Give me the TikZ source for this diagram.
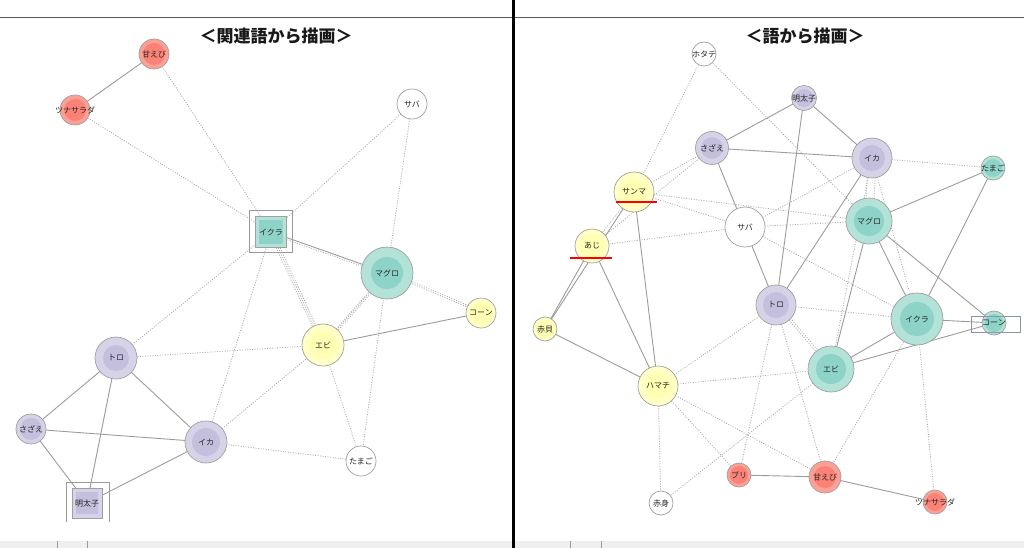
\documentclass[tikz,border=0pt]{standalone}
\usepackage{fontspec}
\newfontfamily\jp{Noto Sans CJK JP}
\usetikzlibrary{backgrounds}
\definecolor{tealI}{HTML}{8DD3C7}
\definecolor{tealO}{HTML}{B3E2D9}
\definecolor{purI}{HTML}{C3BFDD}
\definecolor{purO}{HTML}{D6D3E8}
\definecolor{yelI}{HTML}{FFFFB3}
\definecolor{yelO}{HTML}{FFFFC6}
\definecolor{redI}{HTML}{FB8276}
\definecolor{redO}{HTML}{FCA096}
\definecolor{whiI}{HTML}{FFFFFF}
\definecolor{whiO}{HTML}{FFFFFF}
\definecolor{ndline}{HTML}{A0A0A0}
\definecolor{solgray}{HTML}{9C9C9C}
\definecolor{dotgray}{HTML}{ABABAB}
\definecolor{framegray}{HTML}{9A9A9A}
\definecolor{frameblue}{HTML}{8A94AA}
\definecolor{bargray}{HTML}{EFEFEF}
\newcommand\lbl{\jp\fontsize{8}{9.5}\selectfont}
\newcommand\fl[1]{\makebox[0pt][c]{#1}}
\tikzset{
  fish/.style n args={3}{circle, inner sep=0pt, minimum size=#1, draw=ndline, line width=0.7pt,
     fill=#2O, font=\lbl, text=black!85,
     path picture={\fill[#2I] (path picture bounding box.center) circle (#3);}},
  sq/.style n args={3}{rectangle, inner sep=0pt, minimum size=#1, draw=ndline, line width=0.7pt,
     fill=#2O, font=\lbl, text=black!85,
     path picture={\fill[#2I] ([shift={(-#3,-#3)}]path picture bounding box.center) rectangle ([shift={(#3,#3)}]path picture bounding box.center);}},
  esol/.style={draw=solgray, line width=0.9pt},
  edot/.style={draw=dotgray, line width=0.8pt, dash pattern=on 1pt off 1.5pt},
  frm/.style={draw=framegray, line width=0.8pt},
  ttl/.style={font=\jp\bfseries\fontsize{17}{20}\selectfont, text=black!90},
}
\begin{document}
\begin{tikzpicture}[x=1pt,y=-1pt]
\useasboundingbox (0,0) rectangle (1024,548);

% ---------- titles
\node[ttl] (tL) at (276,36) {＜関連語から描画＞};
\node[ttl] (tR) at (805,36) {＜語から描画＞};

% ---------- left panel nodes
\node[fish={30pt}{red}{11pt}] (Lamaebi) at (154,54) {\fl{甘えび}};
\node[fish={30pt}{red}{11pt}] (Ltuna) at (75,110) {\fl{ツナサラダ}};
\node[fish={30pt}{whi}{11pt}] (Lsaba) at (412,104) {\fl{サバ}};
\node[sq={31pt}{teal}{12pt}] (Likura) at (271,232) {\fl{イクラ}};
\node[fish={52pt}{teal}{16pt}] (Lmaguro) at (387,273) {\fl{マグロ}};
\node[fish={30pt}{yel}{11pt}] (Lcorn) at (481,313) {\fl{コーン}};
\node[fish={42pt}{yel}{14pt}] (Lebi) at (323,345) {\fl{エビ}};
\node[fish={42pt}{pur}{13pt}] (Ltoro) at (116,358) {\fl{トロ}};
\node[fish={30pt}{pur}{11pt}] (Lsazae) at (31,429) {\fl{さざえ}};
\node[fish={42pt}{pur}{14pt}] (Lika) at (206,442) {\fl{イカ}};
\node[fish={30pt}{whi}{11pt}] (Ltamago) at (361,461) {\fl{たまご}};
\node[sq={30pt}{pur}{11pt}] (Lmentai) at (87,503) {\fl{明太子}};
\draw[frm] (249,210) rectangle (292,252);
\draw[frm] (66,522) -- (66,482) -- (109,482) -- (109,522);

% ---------- right panel nodes
\node[fish={24pt}{whi}{9pt}] (Rhotate) at (704,54) {\fl{ホタテ}};
\node[fish={25pt}{pur}{9pt}] (Rmentai) at (804,98) {\fl{明太子}};
\node[fish={33pt}{pur}{11pt}] (Rsazae) at (712,148) {\fl{さざえ}};
\node[fish={40pt}{pur}{13pt}] (Rika) at (872,158) {\fl{イカ}};
\node[fish={24pt}{teal}{9pt}] (Rtamago) at (993,168) {\fl{たまご}};
\node[fish={40pt}{yel}{13pt}] (Rsanma) at (634,192) {\fl{サンマ}};
\node[fish={46pt}{teal}{15pt}] (Rmaguro) at (869,221) {\fl{マグロ}};
\node[fish={40pt}{whi}{13pt}] (Rsaba) at (745,227) {\fl{サバ}};
\node[fish={34pt}{yel}{12pt}] (Raji) at (592,246) {\fl{あじ}};
\node[fish={40pt}{pur}{13pt}] (Rtoro) at (776,305) {\fl{トロ}};
\node[fish={24pt}{yel}{9pt}] (Rakagai) at (545,329) {\fl{赤貝}};
\node[fish={52pt}{teal}{17pt}] (Rikura) at (917,319) {\fl{イクラ}};
\node[fish={24pt}{teal}{9pt}] (Rcorn) at (994,323) {\fl{コーン}};
\node[fish={46pt}{teal}{15pt}] (Rebi) at (831,369) {\fl{エビ}};
\node[fish={40pt}{yel}{13pt}] (Rhamachi) at (658,386) {\fl{ハマチ}};
\node[fish={24pt}{red}{9pt}] (Rburi) at (739,475) {\fl{ブリ}};
\node[fish={32pt}{red}{11pt}] (Ramaebi) at (825,477) {\fl{甘えび}};
\node[fish={24pt}{whi}{9pt}] (Rakami) at (661,503) {\fl{赤身}};
\node[fish={24pt}{red}{9pt}] (Rtuna) at (935,502) {\fl{ツナサラダ}};
\draw[draw=frameblue, line width=0.8pt] (971,316) rectangle (1020,332);

% red underlines
\draw[red, line width=1.8pt] (616,202) -- (657,202);
\draw[red, line width=1.8pt] (570,258) -- (612,258);

% ---------- frame lines
\draw[black!65, line width=1pt] (0,18) -- (1024,18);
\fill[bargray] (0,541) rectangle (1024,548);
\foreach \xx in {57,87,570,601} \draw[black!40, line width=0.6pt] (\xx,541) -- (\xx,548);
\draw[black, line width=2.2pt] (513.5,0) -- (513.5,548);

% ---------- edges (background)
\begin{scope}[on background layer]
\fill[white] (0,0) rectangle (1024,548);
% left solid
\draw[esol] (Lamaebi.center) -- (Ltuna.center);
\draw[esol] (Likura.center) -- (Lmaguro.center);
\draw[esol] (Lebi.center) -- (Lcorn.center);
\draw[esol] (Ltoro.center) -- (Lsazae.center);
\draw[esol] (Ltoro.center) -- (Lika.center);
\draw[esol] (Ltoro.center) -- (Lmentai.center);
\draw[esol] (Lsazae.center) -- (Lika.center);
\draw[esol] (Lsazae.center) -- (Lmentai.center);
\draw[esol] (Lika.center) -- (Lmentai.center);
% left dotted
\draw[edot] (Lamaebi.center) -- (Likura.center);
\draw[edot] (Ltuna.center) -- (Likura.center);
\draw[edot] (Lsaba.center) -- (Likura.center);
\draw[edot] (Lsaba.center) -- (Lmaguro.center);
\draw[edot] ([yshift=-2pt]Likura.center) -- ([yshift=-2pt]Lmaguro.center);
\draw[edot] (Likura.center) -- (Lebi.center);
\draw[edot] ([xshift=2pt]Likura.center) -- ([xshift=2pt]Lebi.center);
\draw[edot] ([xshift=-2pt]Likura.center) -- ([xshift=-2pt]Lebi.center);
\draw[edot] (Likura.center) -- (Ltoro.center);
\draw[edot] (Likura.center) -- (Lika.center);
\draw[edot] (Lmaguro.center) -- (Lcorn.center);
\draw[edot] ([yshift=2pt]Lmaguro.center) -- ([yshift=2pt]Lcorn.center);
\draw[edot] (Lmaguro.center) -- (Lebi.center);
\draw[edot] ([xshift=2pt]Lmaguro.center) -- ([xshift=2pt]Lebi.center);
\draw[edot] ([xshift=-2pt,yshift=-1pt]Lmaguro.center) -- ([xshift=-2pt,yshift=-1pt]Lebi.center);
\draw[edot] (Lmaguro.center) -- (Ltamago.center);
\draw[edot] (Lebi.center) -- (Ltoro.center);
\draw[edot] (Lebi.center) -- (Lika.center);
\draw[edot] (Lebi.center) -- (Ltamago.center);
\draw[edot] (Lika.center) -- (Ltamago.center);
% right solid
\draw[esol] (Rmentai.center) -- (Rsazae.center);
\draw[esol] (Rmentai.center) -- (Rika.center);
\draw[esol] (Rmentai.center) -- (Rtoro.center);
\draw[esol] (Rsazae.center) -- (Rika.center);
\draw[esol] (Rsazae.center) -- (Rtoro.center);
\draw[esol] (Rika.center) -- (Rtoro.center);
\draw[esol] (Rmaguro.center) -- (Rtamago.center);
\draw[esol] (Rtamago.center) -- (Rikura.center);
\draw[esol] (Rmaguro.center) -- (Rikura.center);
\draw[esol] (Rmaguro.center) -- (Rebi.center);
\draw[esol] (Rmaguro.center) -- (Rcorn.center);
\draw[esol] (Rikura.center) -- (Rcorn.center);
\draw[esol] (Rebi.center) -- (Rikura.center);
\draw[esol] (Rebi.center) -- (Rcorn.center);
\draw[esol] (Rsanma.center) -- (Rakagai.center);
\draw[esol] (Raji.center) -- (Rakagai.center);
\draw[esol] (Rsanma.center) -- (Rhamachi.center);
\draw[esol] (Raji.center) -- (Rhamachi.center);
\draw[esol] (Rakagai.center) -- (Rhamachi.center);
\draw[esol] (Rburi.center) -- (Ramaebi.center);
\draw[esol] (Ramaebi.center) -- (Rtuna.center);
% right dotted
\draw[edot] (Rhotate.center) -- (Rsanma.center);
\draw[edot] (Rhotate.center) -- (Rmaguro.center);
\draw[edot] (Rsanma.center) -- (Rsazae.center);
\draw[edot] (Raji.center) -- (Rsazae.center);
\draw[edot] (Rsanma.center) -- (Raji.center);
\draw[edot] (Rsanma.center) -- (Rsaba.center);
\draw[edot] (Rsanma.center) -- (Rmaguro.center);
\draw[edot] (Raji.center) -- (Rsaba.center);
\draw[edot] (Rsaba.center) -- (Rika.center);
\draw[edot] (Rsaba.center) -- (Rmaguro.center);
\draw[edot] (Rsaba.center) -- (Rikura.center);
\draw[edot] (Rika.center) -- (Rtamago.center);
\draw[edot] ([xshift=-4pt]Rika.center) -- ([xshift=-4pt]Rmaguro.center);
\draw[edot] ([xshift=4pt]Rika.center) -- ([xshift=4pt]Rmaguro.center);
\draw[edot] (Rika.center) -- (Rikura.center);
\draw[edot] (Rika.center) -- (Rebi.center);
\draw[edot] (Rtoro.center) -- (Rikura.center);
\draw[edot] (Rtoro.center) -- (Rebi.center);
\draw[edot] ([xshift=3pt]Rtoro.center) -- ([xshift=3pt]Rebi.center);
\draw[edot] (Rtoro.center) -- (Rhamachi.center);
\draw[edot] (Rtoro.center) -- (Rburi.center);
\draw[edot] (Rtoro.center) -- (Ramaebi.center);
\draw[edot] (Rhamachi.center) -- (Rebi.center);
\draw[edot] (Rhamachi.center) -- (Rburi.center);
\draw[edot] (Rhamachi.center) -- (Ramaebi.center);
\draw[edot] (Rhamachi.center) -- (Rakami.center);
\draw[edot] (Rakami.center) -- (Rebi.center);
\draw[edot] (Ramaebi.center) -- (Rikura.center);
\draw[edot] (Rtuna.center) -- (Rikura.center);
\end{scope}
\end{tikzpicture}
\end{document}
